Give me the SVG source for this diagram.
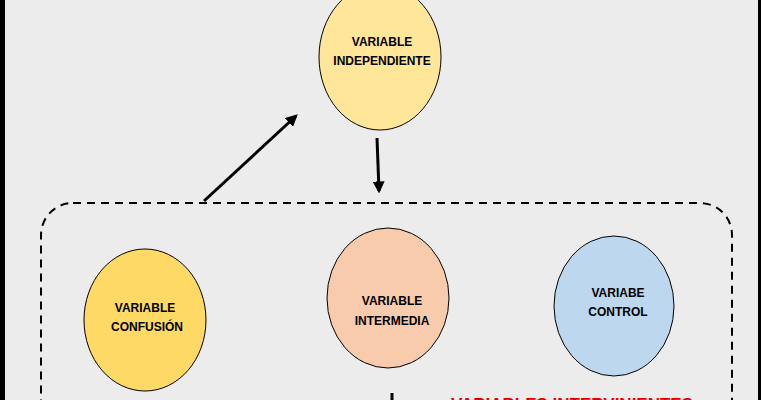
<svg xmlns="http://www.w3.org/2000/svg" width="761" height="400" viewBox="0 0 761 400">
<style>
.n{stroke:#000;stroke-width:1}
.t{font-family:"Liberation Sans",Arial,sans-serif;font-weight:bold;font-size:12px;text-anchor:middle;fill:#000}
.c{stroke:#000;stroke-width:3;fill:none}
</style>
<defs><marker id="a" viewBox="0 0 10 10" refX="8" refY="5" markerWidth="4" markerHeight="4" orient="auto"><path d="M0,0L10,5L0,10z" fill="#000"/></marker></defs>
<rect width="761" height="400" fill="#ececec"/>
<rect x="0" y="0" width="5" height="400" fill="#000"/>
<rect x="758" y="0" width="3" height="400" fill="#000"/>
<g id="connectors">
<rect x="41" y="203" width="691" height="260" rx="32" fill="none" stroke="#000" stroke-width="2" stroke-dasharray="8,6"/>
<line class="c" x1="204" y1="201" x2="296" y2="116" marker-end="url(#a)"/>
<line class="c" x1="377" y1="138" x2="379" y2="191" marker-end="url(#a)"/>
<line class="c" x1="392" y1="393" x2="392" y2="400"/>
</g>
<g id="independiente"><ellipse class="n" cx="380" cy="57" rx="61" ry="73" fill="#ffe699"/>
<text class="t" x="382" y="46">VARIABLE</text><text class="t" x="382" y="65">INDEPENDIENTE</text></g>
<g id="confusion"><ellipse class="n" cx="145" cy="320" rx="61" ry="71" fill="#ffd966"/>
<text class="t" x="145" y="312">VARIABLE</text><text class="t" x="147" y="331">CONFUSIÓN</text></g>
<g id="intermedia"><ellipse class="n" cx="388" cy="298" rx="61" ry="70" fill="#f8cbad"/>
<text class="t" x="392" y="305">VARIABLE</text><text class="t" x="392" y="325">INTERMEDIA</text></g>
<g id="control"><ellipse class="n" cx="614" cy="306" rx="60" ry="70" fill="#bdd7ee"/>
<text class="t" x="618" y="297">VARIABE</text><text class="t" x="618" y="316">CONTROL</text></g>
<text x="572" y="410" font-family="Liberation Sans,Arial,sans-serif" font-weight="bold" font-size="17" fill="#e00000" text-anchor="middle">VARIABLES INTERVINIENTES</text>
</svg>
